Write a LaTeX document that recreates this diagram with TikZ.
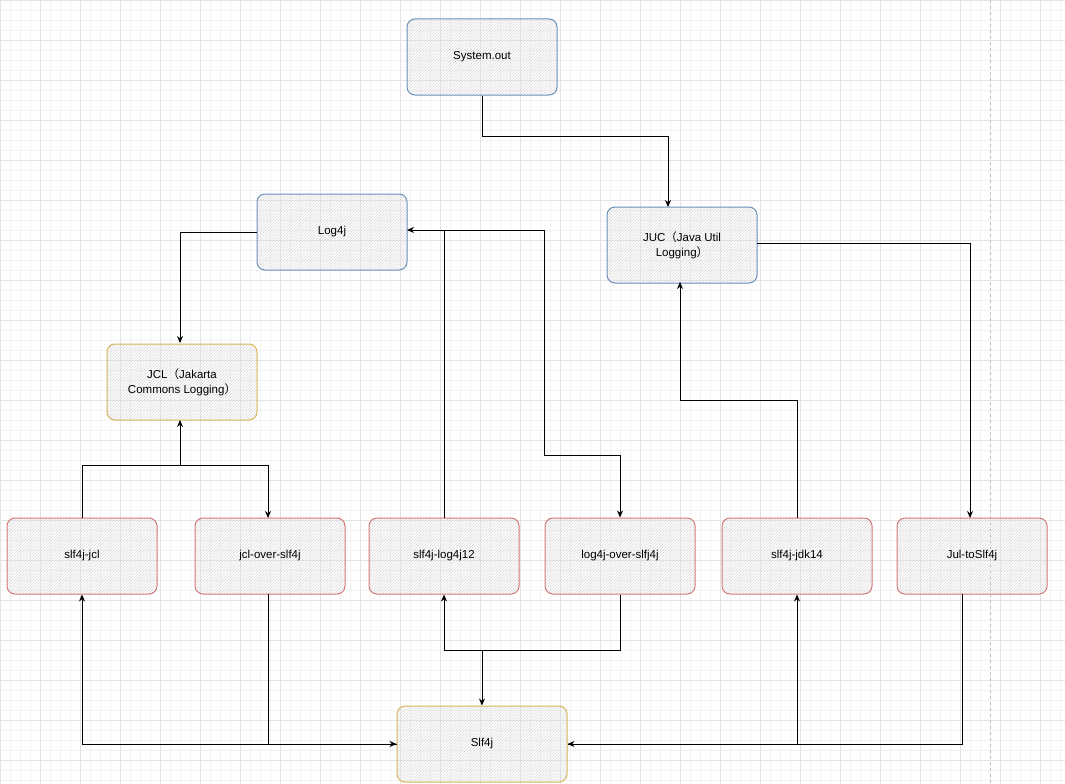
\documentclass[tikz,border=0pt]{standalone}
\usepackage{fontspec}
\setmainfont{Liberation Sans}
\newfontfamily\cjk{Noto Sans CJK SC}
\usetikzlibrary{patterns,arrows.meta}
\definecolor{bstroke}{HTML}{6C8EBF}
\definecolor{ystroke}{HTML}{D6B656}
\definecolor{rstroke}{HTML}{D67878}
\newcommand{\lp}{{\cjk （}}
\newcommand{\rp}{{\cjk ）}}
\begin{document}
\begin{tikzpicture}[x=1pt,y=-1pt,
  box/.style={draw=#1,line width=1pt,rounded corners=8pt,minimum width=150pt,minimum height=76pt,align=center,font=\fontsize{11.5}{15}\selectfont,pattern=north east lines,pattern color=gray!28},
  bbox/.style={box=bstroke},
  ybox/.style={box=ystroke},
  rbox/.style={box=rstroke},
  ar/.style={-{Stealth[length=7pt,width=6pt]},line width=0.9pt}]
\useasboundingbox (0,0) rectangle (1065,784);
\fill[white] (0,0) rectangle (1065,784);
\foreach \i in {0,10,...,1060} \draw[gray!10,line width=0.5pt] (\i,0) -- (\i,784);
\foreach \i in {0,10,...,780} \draw[gray!10,line width=0.5pt] (0,\i) -- (1065,\i);
\foreach \i in {0,40,...,1060} \draw[gray!22,line width=0.6pt] (\i,0) -- (\i,784);
\foreach \i in {0,40,...,780} \draw[gray!22,line width=0.6pt] (0,\i) -- (1065,\i);
\draw[gray!50,dashed] (990,0) -- (990,784);
\node[bbox] (sys) at (482,57) {System.out};
\node[bbox] (log4j) at (332,232) {Log4j};
\node[bbox] (juc) at (682,245) {JUC\lp Java Util\\Logging\rp};
\node[ybox] (jcl) at (182,382) {JCL\lp Jakarta\\Commons Logging\rp};
\node[rbox] (sjcl) at (82,556) {slf4j-jcl};
\node[rbox] (jos) at (270,556) {jcl-over-slf4j};
\node[rbox] (sl12) at (444,556) {slf4j-log4j12};
\node[rbox] (los) at (620,556) {log4j-over-slfj4j};
\node[rbox] (sjdk) at (797,556) {slf4j-jdk14};
\node[rbox] (jul) at (972,556) {Jul-toSlf4j};
\node[ybox,minimum width=170pt] (slf) at (482,744) {Slf4j};
\coordinate (a1) at (482,136); \coordinate (a2) at (668,136);
\draw[ar] (sys.south) -- (a1) -- (a2) -- (668,207);
\draw[ar] (log4j.west) -- (180,232) -- (180,343);
\draw[ar] (757,243) -- (970,243) -- (970,518);
\draw[ar] (sl12.north) -- (444,230) -- (407,230);
\draw[ar] (444,230) -- (544,230) -- (544,455) -- (620,455) -- (los.north);
\draw[ar] (sjcl.north) -- (82,465) -- (180,465) -- (180,420);
\draw[ar] (180,465) -- (268,465) -- (268,518);
\draw[ar] (sjdk.north) -- (797,400) -- (680,400) -- (680,282);
\draw[ar] (slf.west) -- (82,744) -- (sjcl.south);
\draw[ar] (268,594) -- (268,744) -- (slf.west);
\draw[ar] (482,650) -- (444,650) -- (sl12.south);
\draw[ar] (los.south) -- (620,650) -- (482,650) -- (slf.north);
\draw[ar] (slf.east) -- (797,744) -- (sjdk.south);
\draw[ar] (962,594) -- (962,744) -- (slf.east);
\end{tikzpicture}
\end{document}
